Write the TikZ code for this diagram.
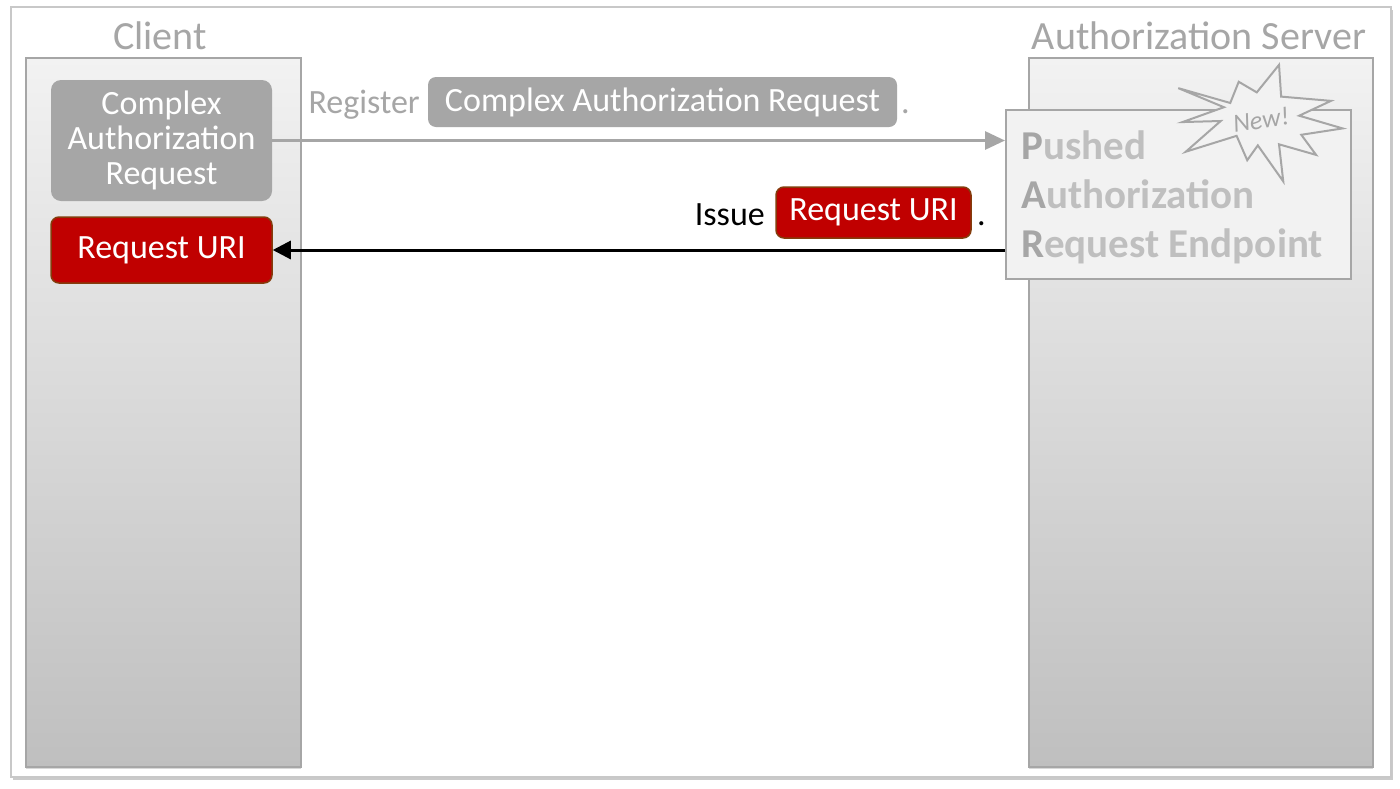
\documentclass[tikz,border=0pt]{standalone}
\usepackage{fontspec}
\setmainfont{Carlito}
\usetikzlibrary{shadows,arrows.meta}
\definecolor{midgray}{HTML}{A6A6A6}
\definecolor{litegray}{HTML}{BFBFBF}
\definecolor{palegray}{HTML}{F2F2F2}
\definecolor{framegray}{HTML}{C8C8C8}
\definecolor{darkred}{HTML}{C00000}
\definecolor{brownedge}{HTML}{843C0C}
\tikzset{
  frame/.style={draw=framegray, line width=1.5pt, fill=white,
    drop shadow={shadow xshift=2pt, shadow yshift=-3pt, fill=black!35, opacity=0.6}},
  lane/.style={draw=midgray, line width=2pt, top color=palegray, bottom color=litegray,
    minimum width=#1, minimum height=709, anchor=north west, inner sep=0},
  title/.style={text=midgray, font=\fontsize{40}{48}\selectfont},
  graybox/.style={draw=none, fill=midgray, rounded corners=10pt, text=white,
    font=\fontsize{34}{35}\selectfont, align=center, inner sep=0},
  redbox/.style={draw=brownedge, line width=1.5pt, fill=darkred, rounded corners=8pt, text=white,
    font=\fontsize{34}{40}\selectfont, inner sep=0},
  partext/.style={text=litegray, font=\bfseries\fontsize{41}{48}\selectfont, anchor=base west, inner sep=0},
  msg/.style={font=\fontsize{34}{40}\selectfont, inner sep=0},
  grayarrow/.style={draw=midgray, line width=3pt, -{Triangle[length=20pt,width=18pt]}},
  blackarrow/.style={draw=black, line width=3pt, -{Triangle[length=18pt,width=18pt]}},
}
\begin{document}
\begin{tikzpicture}[x=1pt,y=-1pt]
\useasboundingbox (0,0) rectangle (1400,788);
% outer frame
\node[frame, minimum width=1380, minimum height=770, anchor=north west, inner sep=0] (fr) at (10,6) {};
% lanes
\node[lane=275, drop shadow={shadow xshift=0pt, shadow yshift=-2pt, fill=black!30}] (cl) at (25,57) {};
\node[lane=344, drop shadow={shadow xshift=0pt, shadow yshift=-2pt, fill=black!30}] (as) at (1028,57) {};
\node[title] (clt) at (160,36) {Client};
\node[title] (ast) at (1199,36) {Authorization Server};
% client boxes
\node[graybox, minimum width=221, minimum height=121] (cab) at (161.5,140.5)
  {Complex\\Authorization\\Request};
\node[redbox, minimum width=221, minimum height=66] (ruri) at (161.5,250) {Request URI};
% PAR endpoint box
\node[draw=midgray, line width=2pt, fill=palegray, minimum width=345, minimum height=169,
  anchor=north west, inner sep=0] (par) at (1005,109) {};
\node[partext] (p1) at (1021,159) {\textcolor{midgray}{P}ushed};
\node[partext] (p2) at (1021,208) {\textcolor{midgray}{A}uthorization};
\node[partext] (p3) at (1021,257) {\textcolor{midgray}{R}equest Endpoint};
% starburst
\begin{scope}[shift={(1261,121)}, scale=1.06, shift={(-1261,-121)}]
\draw[draw=midgray, line width=2pt, fill=palegray, line join=miter]
  (1183,90) -- (1232,104) -- (1240,84) -- (1257,94) -- (1278,68) -- (1280,98)
  -- (1327,102) -- (1297,116) -- (1338,128) -- (1299,134) -- (1313,153) -- (1278,143)
  -- (1282,178) -- (1258,144) -- (1248,158) -- (1238,135) -- (1190,150) -- (1223,121)
  -- (1187,122) -- (1226,108) -- cycle;
\end{scope}
\node[text=midgray, font=\itshape\fontsize{26}{30}\selectfont, rotate=9, inner sep=0] (new) at (1261,120) {New!};
% register message
\node[graybox, minimum width=469, minimum height=50, rounded corners=8pt] (pill1) at (662.5,102)
  {Complex Authorization Request};
\node[msg, text=midgray, anchor=base east] (reg) at (420,113) {Register};
\node[msg, text=midgray, anchor=base west] (dot1) at (901,113) {.};
% issue message
\node[redbox, minimum width=195, minimum height=51] (pill2) at (873.5,212.5) {Request URI};
\node[msg, anchor=base east] (iss) at (765,225) {Issue};
\node[msg, anchor=base west] (dot2) at (977,225) {.};
% arrows
\draw[grayarrow] (cab.east) -- (cab.east -| par.west);
\draw[blackarrow] (ruri.east -| par.west) -- (ruri.east);
\end{tikzpicture}
\end{document}
